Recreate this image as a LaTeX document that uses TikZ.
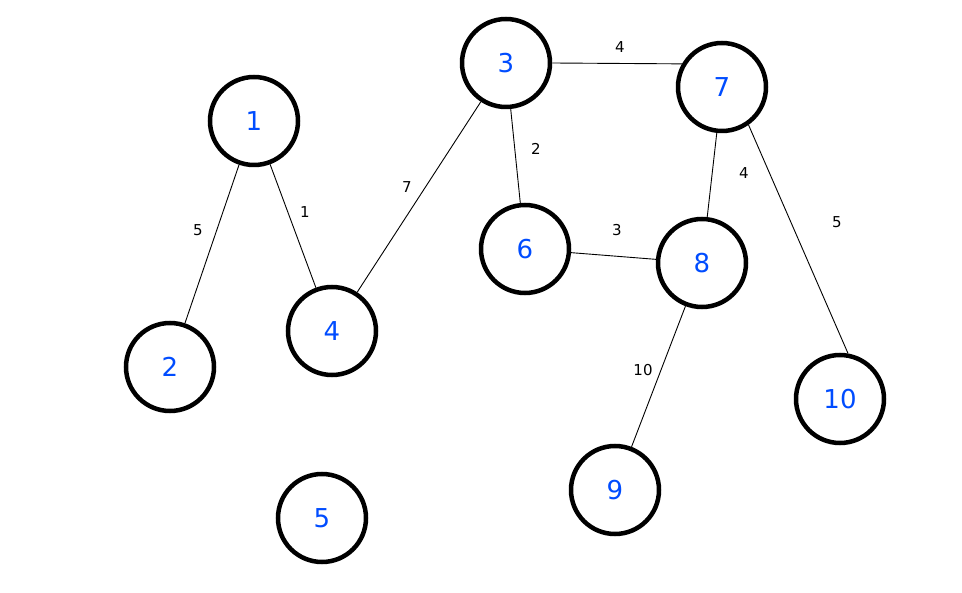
\documentclass[tikz,border=0pt]{standalone}
\usepackage{fontspec}
\setmainfont{DejaVu Sans}
\begin{document}
\begin{tikzpicture}[x=1pt,y=-1pt,
  v/.style={circle,draw=black,line width=4.5pt,minimum size=88pt,inner sep=0pt,text=blue!70!cyan,font=\fontsize{26}{26}\selectfont},
  e/.style={line width=0.9pt},
  w/.style={font=\fontsize{15}{15}\selectfont,text=black}]
\useasboundingbox (0,0) rectangle (962,593);
\node[v] (n1) at (254,121) {1};
\node[v] (n2) at (170,367) {2};
\node[v] (n3) at (506,63) {3};
\node[v] (n4) at (332,331) {4};
\node[v] (n5) at (322,518) {5};
\node[v] (n6) at (525,249) {6};
\node[v] (n7) at (722,87) {7};
\node[v] (n8) at (702,263) {8};
\node[v] (n9) at (615,490) {9};
\node[v] (n10) at (840,399) {10};
\draw[e] (n1) -- (n2);
\draw[e] (n1) -- (n4);
\draw[e] (n4) -- (n3);
\draw[e] (n3.0) -- (n7.150);
\draw[e] (n3) -- (n6);
\draw[e] (n6) -- (n8);
\draw[e] (n7) -- (n8);
\draw[e] (n7.-55) -- (n10.80);
\draw[e] (n8) -- (n9);
\node[w] (l12) at (198,230) {5};
\node[w] (l14) at (305,212) {1};
\node[w] (l43) at (407,187) {7};
\node[w] (l37) at (620,47) {4};
\node[w] (l36) at (536,149) {2};
\node[w] (l68) at (617,230) {3};
\node[w] (l78) at (744,173) {4};
\node[w] (l710) at (837,222) {5};
\node[w] (l89) at (643,370) {10};
\end{tikzpicture}
\end{document}
